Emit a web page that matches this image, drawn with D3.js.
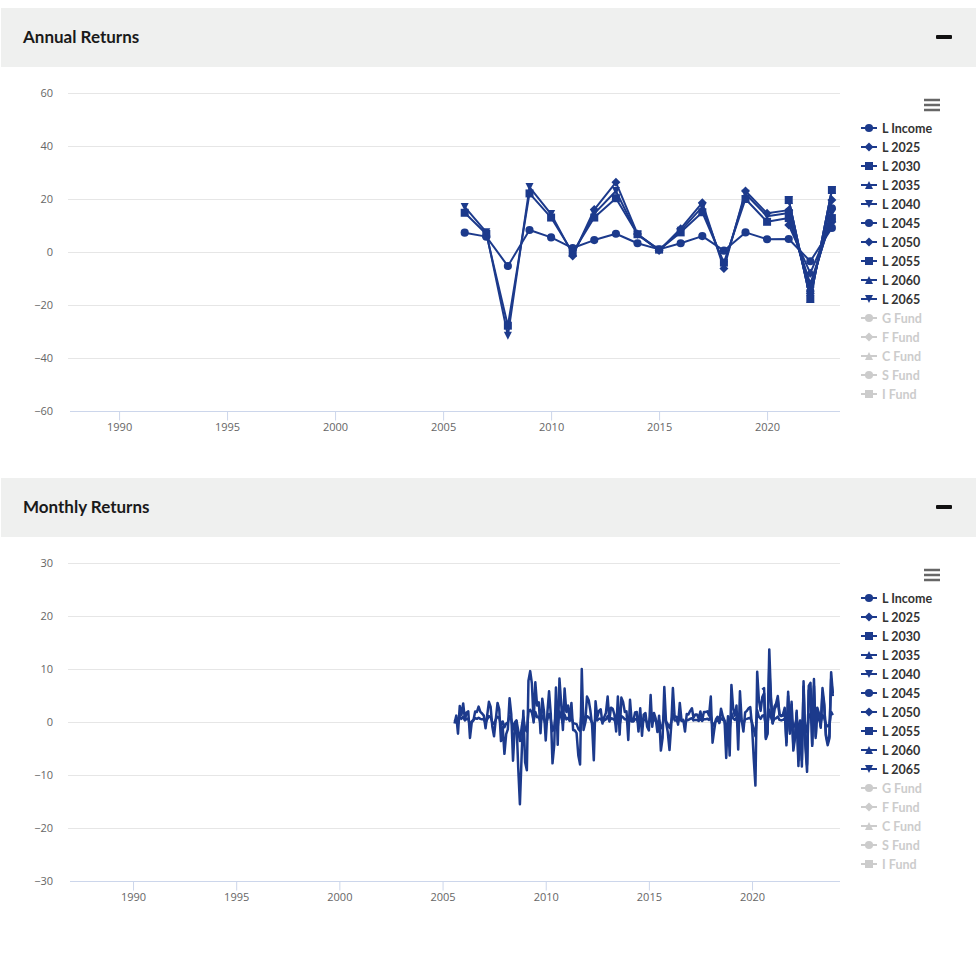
<!DOCTYPE html>
<html>
<head>
<meta charset="utf-8">
<script src="https://cdn.jsdelivr.net/npm/d3@7"></script>
<style>
  body { margin: 0; background: #fff; }
  svg { display: block; }
</style>
</head>
<body>
<div id="chart"></div>
<script>
"use strict";

// legend entries (L funds are shown, the core funds are switched off)
const seriesNames = ["L Income", "L 2025", "L 2030", "L 2035", "L 2040", "L 2045", "L 2050", "L 2055", "L 2060", "L 2065",
	"G Fund", "F Fund", "C Fund", "S Fund", "I Fund"];
const hiddenNames = ["G Fund", "F Fund", "C Fund", "S Fund", "I Fund"];

// annual returns, one value per year, null = fund not open yet
const annualYears = [2006, 2007, 2008, 2009, 2010, 2011, 2012, 2013, 2014, 2015, 2016, 2017, 2018, 2019, 2020, 2021, 2022, 2023];
const annualLIncome = [7.3, 5.8, -5.3, 8.3, 5.5, 1.5, 4.5, 6.9, 3.3, 1.0, 3.3, 6.0, 0.5, 7.4, 4.8, 4.9, -3.5, 9.1];
const annualL2025 = [null, null, null, null, null, null, null, null, null, null, null, null, null, null, null, 10.2, -8.0, 11.3];
const annualL2030 = [14.8, 6.8, -27.8, 22.1, 13.0, -0.3, 13.0, 20.3, 6.7, 0.9, 7.4, 15.0, -4.0, 20.0, 11.4, 12.8, -12.0, 12.8];
const annualL2035 = [null, null, null, null, null, null, null, null, null, null, null, null, null, null, null, 13.8, -13.0, 13.8];
const annualL2040 = [17.0, 7.5, -31.6, 24.5, 14.3, -0.8, 14.5, 23.0, 6.5, 0.7, 8.0, 17.0, -5.0, 22.0, 13.5, 14.7, -14.0, 14.7];
const annualL2045 = [null, null, null, null, null, null, null, null, null, null, null, null, null, null, null, 15.3, -14.8, 16.5];
const annualL2050 = [null, null, null, null, null, -1.5, 16.0, 26.3, 6.8, 0.6, 8.8, 18.6, -6.2, 23.0, 14.6, 15.8, -15.8, 19.6];
const annualL2055 = [null, null, null, null, null, null, null, null, null, null, null, null, null, null, null, 19.6, -17.7, 23.4];
const annualL2060 = [null, null, null, null, null, null, null, null, null, null, null, null, null, null, null, 19.6, -17.7, 23.4];
const annualL2065 = [null, null, null, null, null, null, null, null, null, null, null, null, null, null, null, 19.6, -17.7, 23.4];

// monthly returns, first value is the month given in the start arrays
const monthlyLIncomeStart = [2005, 8];
const monthlyLIncome = [
	0.1, 0.5, -0.3, 1.0, 0.6,
	1.0, 0.3, 0.6, 0.6, -0.6, 0.1, 0.4, 0.7, 0.6, 0.8, 0.6, 0.5,
	0.5, -0.1, 0.5, 1.1, 0.9, -0.1, -0.4, 0.5, 1.0, 0.8, -0.6, 0.1,
	-1.0, -0.3, -0.1, 1.1, 0.5, -1.4, -0.1, 0.3, -1.6, -3.6, -1.0, 0.9,
	-1.4, -1.8, 1.9, 2.3, 1.8, 0.2, 1.9, 0.9, 1.0, -0.2, 1.2, 0.6,
	-0.6, 0.6, 1.5, 0.5, -1.7, -0.9, 1.6, -0.9, 2.0, 0.9, -0.2, 1.4,
	0.5, 0.8, 0.2, 0.9, -0.2, -0.3, -0.4, -1.3, -1.7, 2.3, -0.2, 0.1,
	1.1, 0.9, 0.5, -0.1, -1.4, 1.0, 0.3, 0.6, 0.6, 0.0, 0.3, 0.5,
	1.1, 0.1, 0.7, 0.6, 0.4, -0.4, 1.1, -0.5, 1.1, 0.9, 0.5, 0.5,
	-0.6, 1.0, 0.1, 0.1, 0.5, 0.5, -0.3, 0.7, -0.5, 0.4, 0.5, -0.1,
	-0.3, 1.2, -0.1, 0.5, 0.2, -0.4, 0.4, -1.2, -0.6, 1.6, 0.1, -0.4,
	-1.1, 0.0, 1.5, 0.3, 0.3, 0.0, 0.9, 0.2, 0.2, -0.3, 0.4, 0.4,
	0.6, 0.7, 0.3, 0.4, 0.4, 0.2, 0.6, 0.2, 0.5, 0.5, 0.6, 0.4,
	1.2, -0.8, -0.3, 0.2, 0.3, 0.0, 0.7, 0.4, 0.2, -1.6, 0.4, -1.3,
	1.7, 0.7, 0.4, 0.8, -1.1, 1.4, 0.2, -0.3, 0.5, 0.6, 0.7, 0.8,
	-0.1, -1.4, -2.7, 2.2, 1.0, 0.6, 1.2, 1.3, -0.6, -0.4, 2.3, 0.9,
	0.0, 0.6, 0.7, 1.0, 0.4, 0.3, 0.4, 0.6, -0.8, 1.1, -0.3, 0.8,
	-1.0, -0.5, 0.4, -1.6, 0.1, -1.6, 1.6, -0.8, -1.9, 1.3, 1.5, -0.8,
	1.7, -0.5, 0.7, 0.4, -0.1, 1.3, 0.8, -0.4, -0.8, -0.5, 1.9, 1.3
];
const monthlyL2040Start = [2005, 8];
const monthlyL2040 = [
	-0.3, 1.2, -2.2, 3.0, 1.3,
	3.5, 0.4, 1.8, 2.0, -3.0, -0.1, 0.3, 2.0, 1.9, 2.9, 1.9, 1.6,
	1.2, -1.2, 1.2, 3.8, 2.9, -0.9, -2.7, 0.5, 3.6, 2.4, -3.6, -0.9,
	-6.0, -2.3, -1.4, 4.5, 1.5, -7.3, -1.3, 0.2, -8.6, -15.5, -6.2, 2.1,
	-7.6, -9.1, 7.8, 9.6, 7.3, -0.1, 7.5, 3.1, 3.7, -2.1, 4.4, 2.0,
	-3.5, 2.0, 5.8, 1.4, -7.8, -4.3, 6.5, -4.3, 8.2, 3.5, -1.5, 6.3,
	1.9, 3.1, 0.3, 3.6, -1.5, -1.6, -2.1, -6.3, -8.0, 10.0, -1.5, -0.2,
	4.8, 4.1, 2.2, -0.7, -7.2, 3.9, 0.9, 2.1, 2.4, -0.3, 0.9, 1.7,
	4.8, 0.3, 2.7, 2.5, 1.4, -1.8, 4.8, -2.4, 4.6, 3.8, 1.9, 2.0,
	-3.4, 4.2, 0.3, 0.2, 1.8, 1.9, -1.8, 2.6, -2.6, 1.4, 1.7, -0.9,
	-1.6, 5.1, -0.9, 1.7, 0.7, -1.9, 1.2, -5.4, -3.0, 6.6, -0.1, -1.9,
	-5.3, -0.6, 6.4, 0.9, 1.0, -0.5, 3.6, 0.3, 0.4, -1.8, 1.5, 1.4,
	2.1, 2.6, 0.8, 1.4, 1.4, 0.6, 2.0, 0.3, 1.9, 1.9, 2.0, 1.2,
	4.8, -3.9, -1.6, 0.5, 1.0, -0.2, 2.5, 1.1, 0.3, -6.8, 1.1, -6.3,
	7.0, 2.5, 1.2, 3.1, -5.2, 5.8, 0.4, -1.8, 1.8, 2.1, 2.6, 2.8,
	-0.8, -7.1, -12.0, 9.5, 4.2, 2.1, 4.7, 5.4, -2.9, -2.0, 10.2, 3.8,
	-0.3, 2.4, 3.0, 4.1, 1.3, 1.1, 1.2, 2.3, -3.8, 4.9, -1.7, 3.3,
	-4.6, -2.6, 1.7, -7.2, 0.2, -7.2, 6.7, -3.7, -8.1, 6.0, 6.2, -4.2,
	6.8, -2.7, 2.4, 1.3, -0.8, 5.4, 3.1, -2.4, -3.9, -2.7, 8.1, 4.9
];
const monthlyL2065Start = [2020, 7];
const monthlyL2065 = [
	6.1, 6.4, -3.2, -2.3, 13.7, 4.7,
	-0.2, 2.9, 3.5, 4.9, 1.5, 1.2, 1.3, 2.7, -4.4, 5.7, -2.2, 3.8,
	-5.4, -2.9, 2.1, -8.3, 0.3, -8.4, 7.7, -4.3, -9.4, 6.8, 7.4, -4.5,
	8.1, -3.0, 2.7, 1.5, -1.1, 6.4, 3.6, -2.7, -4.4, -3.1, 9.4, 5.4
];

const annualTicks = [-60, -40, -20, 0, 20, 40, 60];
const monthlyTicks = [-30, -20, -10, 0, 10, 20, 30];
const xTickYears = [1990, 1995, 2000, 2005, 2010, 2015, 2020];

// marker per legend entry, Highcharts default cycle
const symbolNames = ["circle", "diamond", "square", "triangle", "triangle-down",
	"circle", "diamond", "square", "triangle", "triangle-down",
	"circle", "diamond", "triangle", "circle", "square"];

const Width = 978;
const Height = 972;
const lineColor = "#1c3a8c";
const hiddenColor = "#cccccc";

const svg = d3.select("#chart")
	.append("svg")
	.attr("width", Width)
	.attr("height", Height);

function symbolPath(name) {
	if (name === "circle") return d3.symbol(d3.symbolCircle, 52)();
	if (name === "square") return "M-4,-4h8v8h-8z";
	if (name === "diamond") return "M0,-4.5L4.5,0L0,4.5L-4.5,0Z";
	if (name === "triangle") return "M0,-4L4,4L-4,4Z";
	return "M-4,-4L4,-4L0,4Z"; // triangle-down
}

function toDate(year, month) {
	return new Date(year, month - 1, 1);
}

function drawPanel(opt) {
	const g = svg.append("g");
	const top = opt.top;

	// header band
	g.append("rect")
		.attr("x", 1).attr("y", top)
		.attr("width", 975).attr("height", 59)
		.attr("fill", "#eff0ef");
	g.append("text")
		.attr("x", 23).attr("y", top + 35)
		.style("font-family", "Lato, 'Open Sans', sans-serif")
		.style("font-weight", "700")
		.style("font-size", "17px")
		.style("fill", "#1a1a1a")
		.text(opt.title);
	g.append("rect")
		.attr("x", 936).attr("y", top + 27)
		.attr("width", 16).attr("height", 4)
		.attr("rx", 1)
		.attr("fill", "#111");

	const x = d3.scaleTime()
		.domain(opt.xDomain)
		.range([70, 840]);
	const y = d3.scaleLinear()
		.domain([opt.yTicks[0], opt.yTicks[opt.yTicks.length - 1]])
		.range([opt.plotBottom, opt.plotTop]);

	// grid
	g.append("g")
		.selectAll("line")
		.data(opt.yTicks.slice(1))
		.enter()
		.append("line")
		.attr("x1", 68).attr("x2", 840)
		.attr("y1", d => y(d) + 0.5).attr("y2", d => y(d) + 0.5)
		.attr("stroke", "#e6e6e6");

	// y labels
	const yAxis = g.append("g")
		.attr("transform", "translate(58,0)")
		.call(d3.axisLeft(y).tickValues(opt.yTicks).tickSize(0).tickPadding(5));
	yAxis.select(".domain").remove();
	yAxis.selectAll("text")
		.attr("fill", "#666")
		.style("font-family", "'Open Sans', sans-serif")
		.style("font-size", "11px");

	// x axis
	const xAxis = g.append("g")
		.attr("transform", `translate(0,${opt.plotBottom + 0.5})`)
		.call(d3.axisBottom(x)
			.tickValues(xTickYears.map(v => toDate(v, 1)))
			.tickFormat(d3.timeFormat("%Y"))
			.tickSizeOuter(0)
			.tickSize(9)
			.tickPadding(3));
	xAxis.select(".domain").attr("stroke", "#ccd6eb").attr("d", "M70,0H840");
	xAxis.selectAll(".tick line").attr("stroke", "#ccd6eb");
	xAxis.selectAll("text")
		.attr("fill", "#666")
		.style("font-family", "'Open Sans', sans-serif")
		.style("font-size", "11px");

	const line = d3.line()
		.defined(d => d.v !== null)
		.x(d => x(d.date))
		.y(d => y(d.v));

	opt.series.forEach(s => {
		const sg = g.append("g");
		sg.append("path")
			.datum(s.points)
			.attr("d", line)
			.attr("fill", "none")
			.attr("stroke", lineColor)
			.attr("stroke-width", opt.lineWidth)
			.attr("stroke-linejoin", "round");
		if (opt.markers) {
			sg.selectAll("path.marker")
				.data(s.points.filter(d => d.v !== null))
				.enter()
				.append("path")
				.attr("class", "marker")
				.attr("transform", d => `translate(${x(d.date)},${y(d.v)})`)
				.attr("d", symbolPath(s.symbol))
				.attr("fill", lineColor);
		}
	});

	// export menu icon
	[0, 5, 10].forEach(dy => {
		g.append("line")
			.attr("x1", 924).attr("x2", 940)
			.attr("y1", opt.legendTop - 28 + dy).attr("y2", opt.legendTop - 28 + dy)
			.attr("stroke", "#666")
			.attr("stroke-width", 2.5);
	});

	// legend
	const legend = g.append("g")
		.selectAll("g")
		.data(seriesNames)
		.enter()
		.append("g")
		.attr("transform", (d, i) => `translate(861,${opt.legendTop + i * 19})`);
	legend.append("line")
		.attr("x1", 0).attr("x2", 16)
		.attr("stroke", d => hiddenNames.includes(d) ? hiddenColor : lineColor)
		.attr("stroke-width", 2);
	legend.append("path")
		.attr("transform", "translate(8,0)")
		.attr("d", (d, i) => symbolPath(symbolNames[i]))
		.attr("fill", d => hiddenNames.includes(d) ? hiddenColor : lineColor);
	legend.append("text")
		.attr("x", 21).attr("y", 4.5)
		.style("font-family", "Lato, 'Open Sans', sans-serif")
		.style("font-weight", "700")
		.style("font-size", "12.5px")
		.style("fill", d => hiddenNames.includes(d) ? hiddenColor : "#333")
		.text(d => d);
}

// build annual series
const annualArrays = [annualLIncome, annualL2025, annualL2030, annualL2035, annualL2040,
	annualL2045, annualL2050, annualL2055, annualL2060, annualL2065];
const annualSeries = annualArrays.map((values, i) => {
	const points = annualYears.map((yr, j) => ({ date: toDate(yr, 1), v: values[j] }));
	return { name: seriesNames[i], symbol: symbolNames[i], points: points.filter(d => d.v !== null) };
});

function monthlyPoints(start, values) {
	return values.map((v, i) => ({ date: toDate(start[0], start[1] + i), v: v }));
}
const monthlySeries = [
	{ name: "L Income", points: monthlyPoints(monthlyLIncomeStart, monthlyLIncome) },
	{ name: "L 2040", points: monthlyPoints(monthlyL2040Start, monthlyL2040) },
	{ name: "L 2065", points: monthlyPoints(monthlyL2065Start, monthlyL2065) }
];

drawPanel({
	top: 8,
	title: "Annual Returns",
	xDomain: [new Date(1987, 8, 24), new Date(2023, 4, 18)],
	yTicks: annualTicks,
	plotTop: 93,
	plotBottom: 411,
	legendTop: 128,
	markers: true,
	lineWidth: 2,
	series: annualSeries
});

drawPanel({
	top: 478,
	title: "Monthly Returns",
	xDomain: [new Date(1986, 11, 12), new Date(2024, 3, 6)],
	yTicks: monthlyTicks,
	plotTop: 563,
	plotBottom: 881,
	legendTop: 598,
	markers: false,
	lineWidth: 2.5,
	series: monthlySeries
});
</script>
</body>
</html>
